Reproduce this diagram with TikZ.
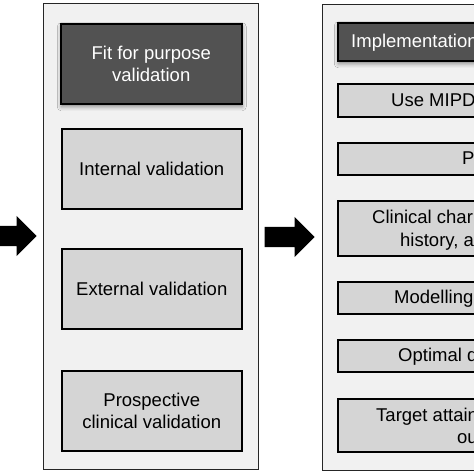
\documentclass[tikz,border=0pt]{standalone}
\usepackage{fontspec}
\setmainfont{Liberation Sans}
\usetikzlibrary{shapes.arrows,shadows.blur}
\definecolor{panelbg}{HTML}{F1F1F1}
\definecolor{lightbox}{HTML}{D5D5D5}
\definecolor{darkbox}{HTML}{525252}
\definecolor{panelline}{HTML}{262626}
\begin{document}
\begin{tikzpicture}[x=1pt,y=-1pt,
  panel/.style={draw=panelline, line width=1.3pt, fill=panelbg, anchor=north west, inner sep=0pt},
  litebox/.style={draw=black, line width=1.5pt, fill=lightbox, anchor=north west, inner sep=0pt,
     font=\fontsize{18.5}{22.5}\selectfont, align=center},
  darkbx/.style={draw=black, line width=1.5pt, fill=darkbox, anchor=north west, inner sep=0pt,
     text=white, font=\fontsize{18.5}{22.5}\selectfont, align=center,
     blur shadow={shadow xshift=0.5pt, shadow yshift=-3pt, shadow blur radius=4pt, shadow opacity=45}},
  lbl/.style={anchor=base west, inner sep=0pt, font=\fontsize{18.5}{22.5}\selectfont},
  bigarrow/.style={single arrow, fill=black, draw=none, inner xsep=0pt, inner ysep=10pt,
     single arrow head extend=10pt, minimum height=50pt, single arrow tip angle=90, anchor=tip}
]
\useasboundingbox (0,0) rectangle (474,474);
\clip (0,0) rectangle (474,474);
\fill[white] (0,0) rectangle (474,474);

% arrows
\node[bigarrow] (arrowA) at (37,236) {};
\node[bigarrow] (arrowB) at (315,237) {};

% left panel
\node[panel, minimum width=215pt, minimum height=466pt] (leftpanel) at (43,3) {};
\node[darkbx, minimum width=181pt, minimum height=80pt] (fit) at (60,23) {Fit for purpose\\validation};
\node[litebox, minimum width=180pt, minimum height=80pt] (internal) at (61,128) {Internal validation};
\node[litebox, minimum width=180pt, minimum height=80pt] (external) at (61,248) {External validation};
\node[litebox, minimum width=180pt, minimum height=80pt] (prosp) at (61,370) {Prospective\\clinical validation};

% right panel
\node[panel, minimum width=300pt, minimum height=466pt] (rightpanel) at (322,4) {};
\node[darkbx, minimum width=263pt, minimum height=38pt] (impl) at (337,22) {};
\node[litebox, minimum width=263pt, minimum height=33pt] (use) at (337,83) {};
\node[litebox, minimum width=263pt, minimum height=32pt] (pat) at (337,142) {};
\node[litebox, minimum width=263pt, minimum height=55pt] (clin) at (337,200) {};
\node[litebox, minimum width=263pt, minimum height=32pt] (mod) at (337,281) {};
\node[litebox, minimum width=263pt, minimum height=32pt] (opt) at (337,339) {};
\node[litebox, minimum width=263pt, minimum height=53pt] (targ) at (337,398) {};

\node[lbl, text=white] (timpl) at (351,47) {Implementation};
\node[lbl] (tuse) at (391,106.5) {Use MIPD};
\node[lbl] (tpat) at (462,164.5) {P};
\node[lbl] (tclinA) at (372,223) {Clinical char};
\node[lbl] (tclinB) at (400,246) {history, a};
\node[lbl] (tmod) at (394,303.5) {Modelling};
\node[lbl] (topt) at (398,361.5) {Optimal d};
\node[lbl] (ttargA) at (376,421) {Target attain};
\node[lbl] (ttargB) at (457,443) {ou};
\end{tikzpicture}
\end{document}
